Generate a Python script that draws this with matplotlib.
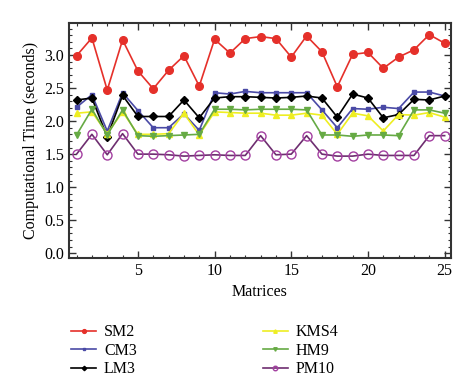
import numpy as np
import matplotlib
matplotlib.use('Agg')
import matplotlib.pyplot as plt
from matplotlib.ticker import MultipleLocator

plt.rcParams['font.family'] = ['Liberation Serif', 'DejaVu Serif']

matrices = np.arange(1, 26)

sm2 = [2.99, 3.26, 2.47, 3.23, 2.76, 2.49, 2.77, 2.99, 2.53, 3.24,
       3.03, 3.25, 3.28, 3.25, 2.97, 3.29, 3.05, 2.52, 3.01, 3.04,
       2.80, 2.97, 3.08, 3.31, 3.18]
cm3 = [2.21, 2.40, 1.85, 2.43, 2.16, 1.90, 1.90, 2.11, 1.86, 2.43,
       2.41, 2.45, 2.43, 2.43, 2.43, 2.43, 2.17, 1.90, 2.19, 2.18,
       2.21, 2.19, 2.44, 2.44, 2.38]
lm3 = [2.32, 2.35, 1.76, 2.39, 2.07, 2.07, 2.07, 2.32, 2.05, 2.35,
       2.37, 2.37, 2.36, 2.35, 2.36, 2.38, 2.35, 2.06, 2.41, 2.35,
       2.05, 2.10, 2.33, 2.32, 2.38]
kms4 = [2.12, 2.14, 1.81, 2.14, 1.80, 1.80, 1.81, 2.12, 1.79, 2.14,
        2.13, 2.12, 2.12, 2.09, 2.09, 2.12, 2.09, 1.80, 2.12, 2.08,
        1.85, 2.10, 2.09, 2.13, 2.06]
hm9 = [1.79, 2.18, 1.79, 2.17, 1.78, 1.77, 1.78, 1.79, 1.80, 2.18,
       2.18, 2.17, 2.18, 2.18, 2.18, 2.17, 1.79, 1.79, 1.77, 1.79,
       1.79, 1.78, 2.17, 2.17, 2.12]
pm10 = [1.50, 1.80, 1.49, 1.81, 1.50, 1.50, 1.49, 1.47, 1.48, 1.49,
        1.48, 1.48, 1.78, 1.49, 1.50, 1.78, 1.50, 1.47, 1.47, 1.50,
        1.48, 1.48, 1.48, 1.78, 1.78]

fig = plt.figure(figsize=(4.74, 3.9), dpi=100)
ax = fig.add_axes([0.146, 0.339, 0.805, 0.601])

ax.plot(matrices, sm2, '-o', color='#e5302a', ms=5.5, lw=1.2, label='SM2')
ax.plot(matrices, cm3, '-s', color='#4a4aa6', ms=3.5, lw=1.2, label='CM3')
ax.plot(matrices, lm3, '-D', color='black', ms=4.5, lw=1.2, label='LM3')
ax.plot(matrices, kms4, '-^', color='#eeee22', ms=5, lw=1.2, label='KMS4')
ax.plot(matrices, hm9, '-v', color='#66aa44', ms=5, lw=1.2, label='HM9')
ax.plot(matrices, pm10, '-o', color='#6e2e70', mfc='none', mec='#a33fa0',
        ms=6.5, mew=1.0, lw=1.2, label='PM10')

ax.set_xlim(0.52, 25.4)
ax.set_ylim(-0.07, 3.48)
ax.xaxis.set_major_locator(MultipleLocator(5))
ax.xaxis.set_minor_locator(MultipleLocator(1))
ax.yaxis.set_major_locator(MultipleLocator(0.5))
ax.yaxis.set_minor_locator(MultipleLocator(0.1))
ax.yaxis.set_major_formatter(plt.FormatStrFormatter('%.1f'))
ax.tick_params(which='both', direction='in', top=True, right=True,
               labelsize=11.5, color='#333333')
ax.tick_params(which='major', length=5, width=1)
ax.tick_params(which='minor', length=2.5, width=0.8)
for sp in ax.spines.values():
    sp.set_linewidth(1.5)
    sp.set_color('#333333')

ax.set_xlabel('Matrices', fontsize=11.5)
ax.set_ylabel('Computational Time (seconds)', fontsize=11.5)

fig.legend(loc='upper left', bbox_to_anchor=(0.12, 0.205), ncol=2,
           frameon=False, fontsize=11.5, handlelength=1.55, labelspacing=0.15,
           columnspacing=7.9, markerscale=0.5, handletextpad=0.5)

fig.savefig('out.png', dpi=100)
